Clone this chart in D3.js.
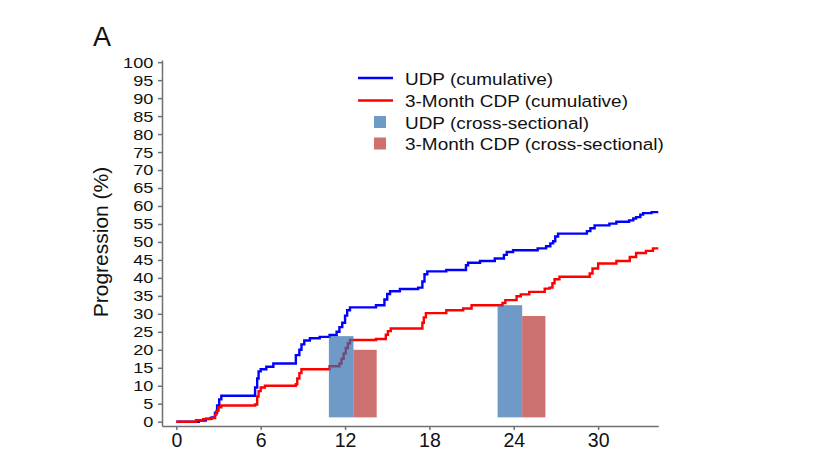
<!DOCTYPE html>
<html lang="en">
  <head>
    <meta charset="UTF-8">
    <title>Progression</title>
    <script src="https://cdn.jsdelivr.net/npm/d3@7"></script>
    <style>
      body { margin: 0; background: #fff; }
      text { font-family: Arial, "Liberation Sans", sans-serif; fill: #111; }
    </style>
  </head>
  <body>
    <script>
      let w = 820;
      let h = 461;

      // cumulative progression, [month, percent], step-after
      let udpCumulative = [
        [0, 0], [1.6, 0.3], [2.1, 0.8], [2.5, 1.2], [2.75, 2.5], [2.9, 4.5], [3.05, 6.2], [3.2, 7.2],
        [5.6, 9.5], [5.75, 12], [5.85, 14], [6.0, 14.6], [6.4, 15.3], [6.9, 16.2],
        [8.5, 18.5], [8.75, 20], [8.9, 21.5], [9.1, 22.6], [9.5, 23.2], [10.2, 23.6], [10.9, 24.1],
        [11.4, 25], [11.6, 26.3], [11.8, 27.5], [12.0, 29.5], [12.15, 31], [12.35, 31.8],
        [14.2, 32.4], [14.8, 34], [15.0, 35.5], [15.2, 36.3], [15.9, 36.9], [17.2, 37.3],
        [17.5, 39], [17.65, 41], [17.85, 41.8], [19.2, 42.2], [20.6, 43.5], [20.75, 44.2],
        [21.6, 44.7], [22.65, 45.4], [23.3, 46.4], [23.5, 47.2], [23.95, 47.7], [25.7, 48.2],
        [26.3, 48.8], [26.6, 49.6], [26.8, 50.2], [26.95, 51.5], [27.15, 52.3], [29.2, 53.0],
        [29.45, 53.8], [29.75, 54.6], [30.8, 55.1], [31.3, 55.6], [32.2, 56], [32.5, 56.5],
        [32.7, 56.9], [33.0, 57.6], [33.2, 58.0], [33.8, 58.3], [34.28, 58.3]
      ];
      let cdpCumulative = [
        [0, 0], [1.4, 0.4], [1.9, 0.7], [2.4, 1.0], [2.75, 2], [2.85, 3], [3.0, 4.0], [3.2, 4.5],
        [5.6, 4.8], [5.75, 7], [5.85, 8.5], [6.0, 9.5], [6.3, 10.0], [8.5, 10.4], [8.6, 12],
        [8.75, 13.5], [8.9, 14.6], [10.9, 15.4], [11.6, 16.2], [11.75, 17.5], [11.9, 19],
        [12.05, 20.5], [12.2, 21.8], [12.35, 22.7], [14.2, 23.0], [14.9, 24.2], [15.05, 25.2],
        [15.25, 25.9], [17.5, 27.5], [17.6, 29], [17.75, 30.2], [19.2, 31.0], [20.4, 31.5],
        [21.0, 32.4], [23.2, 33.0], [23.4, 33.8], [24.2, 34.9], [24.5, 35.4], [25.1, 36.1],
        [26.2, 37.0], [26.55, 37.3], [26.75, 38.5], [26.9, 39.6], [27.25, 40.3], [29.4, 41.2],
        [29.6, 42.6], [30.0, 44.0], [31.3, 44.7], [32.25, 45.8], [32.7, 46.9], [33.4, 47.5],
        [33.9, 48.2], [34.28, 48.2]
      ];

      // cross-sectional bars
      let barMonths = [12, 24];
      let udpCross = [23.8, 32.4];
      let cdpCross = [20.0, 29.4];
      let barBase = 1.2;

      let xTicks = [0, 6, 12, 18, 24, 30];
      let yTicks = d3.range(0, 101, 5);

      let legendLabels = [
        'UDP (cumulative)',
        '3-Month CDP (cumulative)',
        'UDP (cross-sectional)',
        '3-Month CDP (cross-sectional)'
      ];

      let xScale = d3.scaleLinear().domain([-1.02, 34.28]).range([162, 658.3]);
      let yScale = d3.scaleLinear().domain([-1.2, 100.6]).range([426, 60]);

      let svg = d3.select('body').append('svg')
                  .attr('width', w)
                  .attr('height', h);

      // panel letter
      svg.append('text')
         .attr('x', 93)
         .attr('y', 46)
         .attr('font-size', 27)
         .text('A');

      // y axis title
      svg.append('text')
         .attr('transform', 'translate(108,242) rotate(-90)')
         .attr('text-anchor', 'middle')
         .attr('font-size', 21)
         .text('Progression (%)');

      // axes
      let axisColor = '#707070';
      let yAxis = svg.append('g')
         .attr('transform', 'translate(162,0)')
         .call(d3.axisLeft(yScale).tickValues(yTicks).tickSize(4).tickSizeOuter(0).tickPadding(4.7));
      yAxis.selectAll('text')
         .attr('font-size', 15.5)
         .attr('x', -8.7 / 1.17)
         .attr('transform', 'scale(1.17,1)');

      let xAxis = svg.append('g')
         .attr('transform', 'translate(0,426)')
         .call(d3.axisBottom(xScale).tickValues(xTicks).tickSize(4).tickSizeOuter(0));
      xAxis.selectAll('text').attr('font-size', 19.5);

      svg.selectAll('.domain, .tick line')
         .attr('stroke', axisColor)
         .attr('stroke-width', 1.5);
      svg.selectAll('.tick text').attr('fill', '#111').style('font-family', 'Arial, "Liberation Sans", sans-serif');

      // cumulative lines
      let line = d3.line()
                   .x(d => xScale(d[0]))
                   .y(d => yScale(d[1]))
                   .curve(d3.curveStepAfter);

      svg.append('path')
         .datum(udpCumulative)
         .attr('d', line)
         .attr('fill', 'none')
         .attr('stroke', '#0000ff')
         .attr('stroke-width', 2.4);

      svg.append('path')
         .datum(cdpCumulative)
         .attr('d', line)
         .attr('fill', 'none')
         .attr('stroke', '#ff0000')
         .attr('stroke-width', 2.4);

      // bars drawn on top, semi transparent
      let blueFill = 'rgb(50,110,175)';
      let redFill = 'rgb(184,51,51)';

      svg.selectAll('rect.udp')
         .data(barMonths)
         .enter()
         .append('rect')
         .attr('class', 'udp')
         .attr('x', d => xScale(d - 1.15))
         .attr('width', d => xScale(d + 0.6) - xScale(d - 1.15))
         .attr('y', (d, i) => yScale(udpCross[i]))
         .attr('height', (d, i) => yScale(barBase) - yScale(udpCross[i]))
         .attr('fill', blueFill)
         .attr('fill-opacity', 0.7);

      svg.selectAll('rect.cdp')
         .data(barMonths)
         .enter()
         .append('rect')
         .attr('class', 'cdp')
         .attr('x', d => xScale(d + 0.6))
         .attr('width', d => xScale(d + 2.25) - xScale(d + 0.6))
         .attr('y', (d, i) => yScale(cdpCross[i]))
         .attr('height', (d, i) => yScale(barBase) - yScale(cdpCross[i]))
         .attr('fill', redFill)
         .attr('fill-opacity', 0.7);

      // legend
      let legend = svg.append('g').attr('transform', 'translate(358,0)');
      let rowY = [78, 100.5, 122, 143.5];

      legend.append('line').attr('x1', 0).attr('x2', 35).attr('y1', rowY[0]).attr('y2', rowY[0])
            .attr('stroke', '#0000ff').attr('stroke-width', 2.4);
      legend.append('line').attr('x1', 0).attr('x2', 35).attr('y1', rowY[1]).attr('y2', rowY[1])
            .attr('stroke', '#ff0000').attr('stroke-width', 2.4);
      legend.append('rect').attr('x', 16).attr('y', rowY[2] - 6).attr('width', 12).attr('height', 12)
            .attr('fill', blueFill).attr('fill-opacity', 0.7);
      legend.append('rect').attr('x', 16).attr('y', rowY[3] - 6).attr('width', 12).attr('height', 12)
            .attr('fill', redFill).attr('fill-opacity', 0.7);

      legend.selectAll('text.lab')
            .data(legendLabels)
            .enter()
            .append('text')
            .attr('class', 'lab')
            .attr('transform', (d, i) => 'translate(47,' + (rowY[i] + 6.5) + ') scale(1.09,1)')
            .attr('font-size', 17.4)
            .text(d => d);
    </script>
  </body>
</html>
